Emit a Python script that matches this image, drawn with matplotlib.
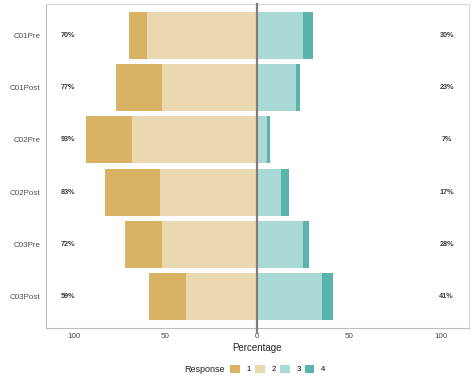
import matplotlib
matplotlib.use("Agg")
import matplotlib.pyplot as plt
from matplotlib.patches import Patch
import numpy as np

plt.rcParams["font.family"] = ["Liberation Sans", "DejaVu Sans"]

items = ["C01Pre", "C01Post", "C02Pre", "C02Post", "C03Pre", "C03Post"]
resp1 = [10, 25, 25, 30, 20, 20]
resp2 = [60, 52, 68, 53, 52, 39]
resp3 = [25, 21, 5, 13, 25, 35]
resp4 = [5, 2, 2, 4, 3, 6]
low_pct = ["70%", "77%", "93%", "83%", "72%", "59%"]
high_pct = ["30%", "23%", "7%", "17%", "28%", "41%"]
levels = ["1", "2", "3", "4"]
colors = ["#D8B365", "#E9D8B0", "#ABD9D5", "#5AB4AC"]

fig = plt.figure(figsize=(4.74, 3.84), dpi=100)
ax = fig.add_axes([0.097, 0.146, 0.892, 0.844])

y = np.arange(len(items))[::-1] + 1
r1 = np.array(resp1)
r2 = np.array(resp2)
r3 = np.array(resp3)
r4 = np.array(resp4)

h = 0.9
ax.barh(y, -r2, height=h, color=colors[1], linewidth=0)
ax.barh(y, -r1, left=-r2, height=h, color=colors[0], linewidth=0)
ax.barh(y, r3, height=h, color=colors[2], linewidth=0)
ax.barh(y, r4, left=r3, height=h, color=colors[3], linewidth=0)

ax.axvline(0, ymin=-0.015, ymax=1.0, color="#7f7f7f", lw=1.6, zorder=3, clip_on=False)

for yi, lo, hi in zip(y, low_pct, high_pct):
    ax.text(-103, yi, lo, ha="center", va="center", fontsize=5.2,
            fontweight="bold", color="#3a3a3a")
    ax.text(103, yi, hi, ha="center", va="center", fontsize=5.2,
            fontweight="bold", color="#3a3a3a")

ax.set_xlim(-115, 115)
ax.set_ylim(0.4, len(items) + 0.6)
ax.set_xticks([-100, -50, 0, 50, 100])
ax.set_xticklabels(["100", "50", "0", "50", "100"])
ax.set_yticks(y)
ax.set_yticklabels(items)
ax.tick_params(axis="both", length=0, labelsize=5.8, colors="#4d4d4d", pad=4)
ax.set_xlabel("Percentage", fontsize=7, color="#222222", labelpad=2)

for side in ["top", "right"]:
    ax.spines[side].set_color("#d9d9d9")
    ax.spines[side].set_linewidth(0.8)
for side in ["left", "bottom"]:
    ax.spines[side].set_color("#bdbdbd")
    ax.spines[side].set_linewidth(0.8)

handles = [Patch(facecolor=c, edgecolor="none", label=l) for c, l in zip(colors, levels)]
fig.legend(handles=handles, loc="center left", bbox_to_anchor=(0.485, 0.039), ncol=4,
           frameon=False, fontsize=5.5, handlelength=1.3, handleheight=1.3,
           handletextpad=0.9, columnspacing=0.5, borderpad=0, borderaxespad=0)
fig.text(0.475, 0.039, "Response", ha="right", va="center", fontsize=6.5, color="#222222")

fig.savefig("out.png", dpi=100)
